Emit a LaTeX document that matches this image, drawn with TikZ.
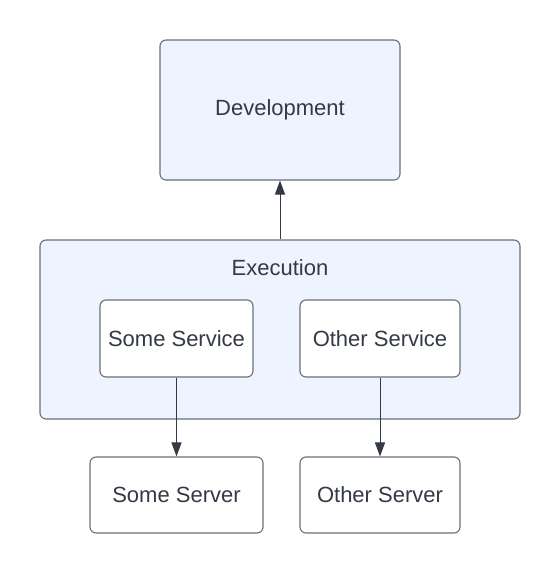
\documentclass[tikz,border=0pt]{standalone}
\usepackage{fontspec}
\setmainfont{Liberation Sans}
\usetikzlibrary{arrows.meta}
\definecolor{bord}{HTML}{6B6F76}
\definecolor{txt}{HTML}{333A45}
\definecolor{lblue}{HTML}{EDF4FF}
\tikzset{
  lbl/.style={text=txt, font=\fontsize{22}{26}\selectfont},
  box/.style={draw=bord, line width=1.1pt, rounded corners=6pt, lbl},
  conn/.style={draw=txt, line width=1pt, -{Triangle[length=14pt,width=10pt]}},
}
\begin{document}
\begin{tikzpicture}[x=1pt,y=-1pt]
\useasboundingbox (0,0) rectangle (560,574);
\fill[white] (0,0) rectangle (560,574);
\node[box, fill=lblue, minimum width=240pt, minimum height=140pt] (dev) at (280,110) {Development};
\node[box, fill=lblue, minimum width=480pt, minimum height=179pt] (exe) at (280,329.5) {};
\node[lbl] (exel) at (280,268) {Execution};
\node[box, fill=white, minimum width=153pt, minimum height=77pt] (ssvc) at (176.5,338.5) {Some Service};
\node[box, fill=white, minimum width=160pt, minimum height=77pt] (osvc) at (380,338.5) {Other Service};
\node[box, fill=white, minimum width=173pt, minimum height=76pt] (ssrv) at (176.5,495) {Some Server};
\node[box, fill=white, minimum width=160pt, minimum height=76pt] (osrv) at (380,495) {Other Server};
\draw[conn] (exe.north) -- (dev.south);
\draw[conn] (ssvc.south) -- (ssrv.north);
\draw[conn] (osvc.south) -- (osrv.north);
\end{tikzpicture}
\end{document}
